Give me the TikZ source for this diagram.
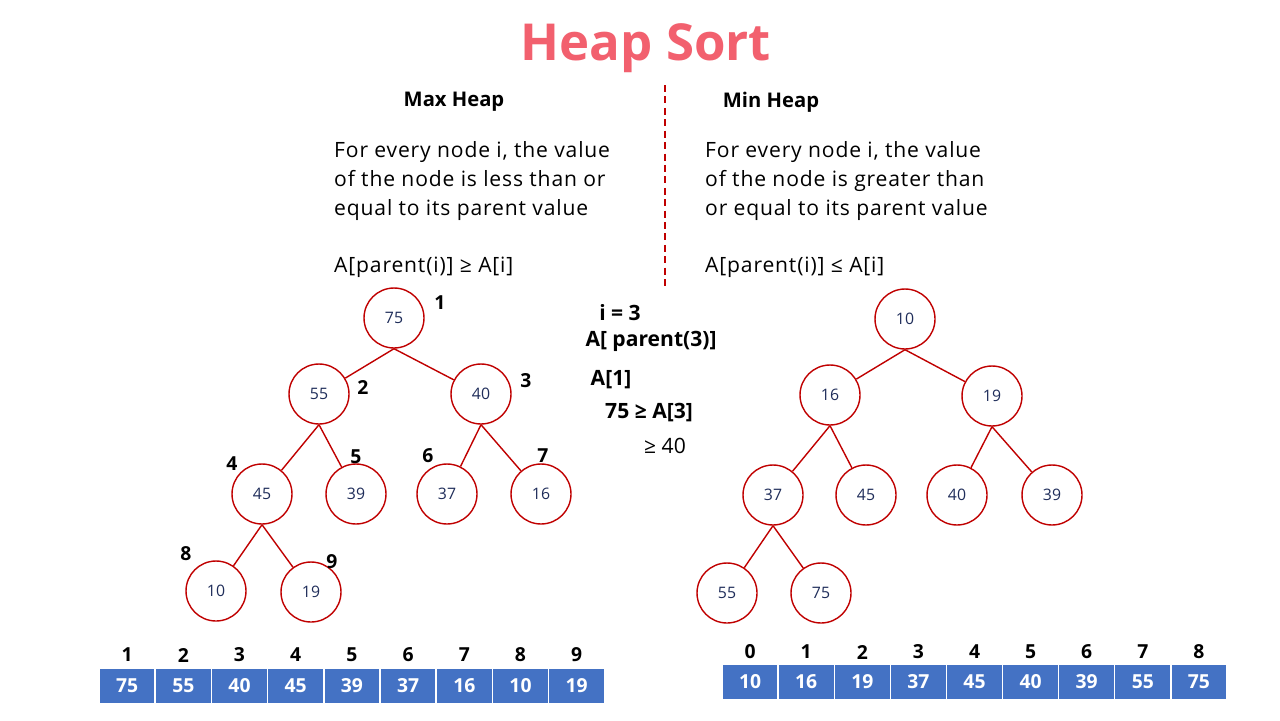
\documentclass[tikz,border=0pt]{standalone}
\usepackage{fontspec}
\setmainfont{Open Sans}
\definecolor{titlered}{HTML}{F2606E}
\definecolor{heapred}{HTML}{C00000}
\definecolor{cellblue}{HTML}{4472C4}
\definecolor{numblue}{HTML}{1F2D5A}
\tikzset{
  hnode/.style={circle,draw=heapred,thick,minimum size=1.2cm,inner sep=0pt,font=\fontsize{9}{10}\selectfont,text=numblue,fill=white},
  hedge/.style={heapred,thick},
  idx/.style={font=\fontsize{11}{13}\selectfont\bfseries},
  cell/.style={fill=cellblue,draw=white,thick,minimum width=1.124cm,minimum height=0.72cm,inner sep=0pt,text=white,font=\fontsize{11}{13}\selectfont\bfseries},
  body/.style={font=\fontsize{12}{16.3}\selectfont\addfontfeatures{LetterSpace=4},align=left,anchor=west}
}
\begin{document}
\begin{tikzpicture}[x=0.02cm,y=-0.02cm]
    \useasboundingbox[fill=white] (0,0) rectangle (1280,720);

    % title and headings
    \node[text=titlered,font=\fontsize{29}{34}\selectfont\bfseries] (title) at (646,48) {Heap Sort};
    \node[font=\fontsize{11.5}{14}\selectfont\bfseries] (maxh) at (454,102) {Max Heap};
    \node[font=\fontsize{11.5}{14}\selectfont\bfseries] (minh) at (771,102) {Min Heap};
    \coordinate (sepT) at (665,85);
    \coordinate (sepB) at (665,290);
    \draw[heapred,line width=1.6pt,dash pattern=on 4pt off 2.5pt] (sepT) -- (sepB);

    % definitions
    \node[body] (maxtxt) at (328,181) {For every node i, the value\\of the node is less than or\\equal to its parent value};
    \node[body] (mintxt) at (699,181) {For every node i, the value\\of the node is greater than\\or equal to its parent value};
    \node[body] (maxrule) at (328,267) {A[parent(i)] ≥ A[i]};
    \node[body] (minrule) at (699,267) {A[parent(i)] ≤ A[i]};

    % worked step
    \node[idx,font=\fontsize{12}{14}\selectfont\bfseries] (s1) at (620,313) {i = 3};
    \node[idx,font=\fontsize{12}{14}\selectfont\bfseries] (s2) at (651,341) {A[ parent(3)]};
    \node[idx,font=\fontsize{12}{14}\selectfont\bfseries] (s3) at (611,380) {A[1]};
    \node[idx,font=\fontsize{12}{14}\selectfont\bfseries] (s4) at (649,413) {75 ≥ A[3]};
    \node[font=\fontsize{12}{14}\selectfont] (s5) at (665,446) {≥ 40};

    % max heap
    \node[hnode] (m1) at (394,318) {75};
    \node[hnode] (m2) at (319,394) {55};
    \node[hnode] (m3) at (481,394) {40};
    \node[hnode] (m4) at (262,494) {45};
    \node[hnode] (m5) at (356,494) {39};
    \node[hnode] (m6) at (447,494) {37};
    \node[hnode] (m7) at (541,494) {16};
    \node[hnode] (m8) at (216,591) {10};
    \node[hnode] (m9) at (311,592) {19};
    \foreach \p/\c in {m1/m2,m1/m3,m2/m4,m2/m5,m3/m6,m3/m7,m4/m8,m4/m9}
        \draw[hedge] (\p.south) -- (\c);
    \foreach \n/\x/\y in {1/440/303,2/363/387,3/526/381,4/232/464,5/356/457,6/428/456,7/543/456,8/186/554,9/332/562}
        \node[idx] (ml\n) at (\x,\y) {\n};

    % min heap
    \node[hnode] (n1) at (905,319) {10};
    \node[hnode] (n2) at (830,395) {16};
    \node[hnode] (n3) at (992,396) {19};
    \node[hnode] (n4) at (773,495) {37};
    \node[hnode] (n5) at (866,495) {45};
    \node[hnode] (n6) at (957,495) {40};
    \node[hnode] (n7) at (1052,495) {39};
    \node[hnode] (n8) at (727,593) {55};
    \node[hnode] (n9) at (821,593) {75};
    \foreach \p/\c in {n1/n2,n1/n3,n2/n4,n2/n5,n3/n6,n3/n7,n4/n8,n4/n9}
        \draw[hedge] (\p.south) -- (\c);

    % arrays
    \foreach \v [count=\i] in {75,55,40,45,39,37,16,10,19} {
        \node[cell] (a\i) at (99+28.1+56.2*\i-56.2,686) {\v};
        \node[idx] (ai\i) at (a\i.center|-0,655) {\i};
    }
    \foreach \v [count=\i from 0] in {10,16,19,37,45,40,39,55,75} {
        \node[cell] (b\i) at (722+28.1+56.1*\i,682) {\v};
        \node[idx] (bi\i) at (b\i.center|-0,652) {\i};
    }
\end{tikzpicture}
\end{document}
